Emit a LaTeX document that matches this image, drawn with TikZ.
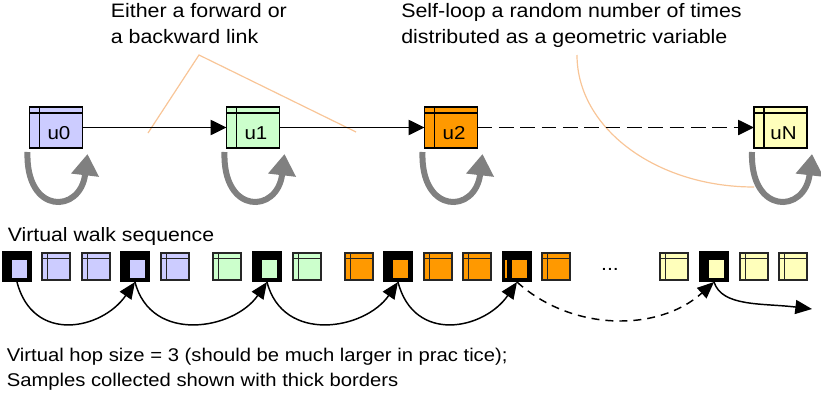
\documentclass[tikz,border=0pt]{standalone}
\usepackage{fontspec}
\setmainfont[FakeStretch=1.1]{Liberation Sans}
\usetikzlibrary{arrows.meta,calc}
\definecolor{lav}{HTML}{CCCCFF}
\definecolor{mint}{HTML}{CCFFCC}
\definecolor{orng}{HTML}{FF9900}
\definecolor{lemon}{HTML}{FFFFBB}
\definecolor{callout}{HTML}{F8C597}
\definecolor{loopgray}{HTML}{808080}
\newcommand\litebox[3]{%
  \node[sbox, fill=#3] (#1) at (#2,266.5) {};
  \draw[thinln] ($(#1.north west)+(0,5)$) -- ($(#1.north east)+(0,5)$);
  \draw[thinln] ($(#1.north west)+(5.5,0)$) -- ($(#1.south west)+(5.5,0)$);
}
\newcommand\darkbox[3]{%
  \node[bbox] (#1) at (#2,266.5) {};
  \fill[#3] ($(#1.north west)+(10,9)$) rectangle ($(#1.south east)+(-5,-4.5)$);
}
\newcommand\topbox[3]{%
  \node[ubox, fill=#3] (#1) at (#2,127.5) {};
  \draw[midln] ($(#1.north west)+(0,6)$) -- ($(#1.north east)+(0,6)$);
  \draw[midln] ($(#1.north west)+(10,0)$) -- ($(#1.south west)+(10,0)$);
}
\begin{document}
\begin{tikzpicture}[x=0.75pt,y=-0.75pt,
  ubox/.style={draw=black, line width=1pt, minimum width=39.75pt, minimum height=30.75pt, inner sep=0pt, outer sep=0pt},
  midln/.style={line width=0.8pt},
  ulab/.style={font=\fontsize{14}{16}\selectfont, inner sep=0pt, anchor=base},
  link/.style={line width=1.1pt, -{Triangle[length=12pt,width=11.5pt]}},
  dlink/.style={link, dash pattern=on 11pt off 5pt},
  selfloop/.style={draw=loopgray, line width=4.5pt, -{Triangle[length=16pt,width=20pt]}},
  callline/.style={draw=callout, line width=0.9pt},
  sbox/.style={draw=black!85, line width=0.9pt, minimum width=21pt, minimum height=20.25pt, inner sep=0pt, outer sep=0pt},
  thinln/.style={draw=black!85, line width=0.7pt},
  bbox/.style={fill=black, minimum width=22.5pt, minimum height=23.25pt, inner sep=0pt, outer sep=0pt},
  hop/.style={line width=1.1pt, -{Triangle[length=12.5pt,width=10.5pt]}},
  dhop/.style={hop, dash pattern=on 6pt off 4.5pt},
  captop/.style={font=\fontsize{14.6}{17}\selectfont, inner sep=0pt, anchor=base west},
  capmid/.style={font=\fontsize{14.5}{17}\selectfont, inner sep=0pt, anchor=base west},
  capbot/.style={font=\fontsize{13.8}{16}\selectfont, inner sep=0pt, anchor=base west}
]
\useasboundingbox (0,0) rectangle (821,393);

% captions
\node[captop] (t1a) at (110.5,17) {Either a forward or};
\node[captop] (t1b) at (110.5,43) {a backward link};
\node[captop] (t2a) at (401,17) {Self-loop a random number of times};
\node[captop] (t2b) at (401,43) {distributed as a geometric variable};
\node[capmid] (t3) at (7.5,241) {Virtual walk sequence};
\node[capbot] (t4a) at (6.5,361) {Virtual hop size = 3 (should be much larger in prac tice);};
\node[capbot] (t4b) at (6.5,386) {Samples collected shown with thick borders};

% callout lines
\coordinate (ca) at (199,55);
\coordinate (cl) at (148,133);
\coordinate (cr) at (356,132);
\draw[callline] (cl) -- (ca) -- (cr);
\coordinate (sa) at (577,55);
\coordinate (sb) at (754,187);
\draw[callline] (sa) .. controls +(0,73) and +(-98,0) .. (sb);

% top chain
\topbox{u0}{56}{lav}
\topbox{u1}{253}{mint}
\topbox{u2}{451}{orng}
\topbox{uN}{780.5}{lemon}
\node[ulab] (u0l) at ($(u0.south)+(3,-9)$) {u0};
\node[ulab] (u1l) at ($(u1.south)+(3,-9)$) {u1};
\node[ulab] (u2l) at ($(u2.south)+(3,-9)$) {u2};
\node[ulab] (uNl) at ($(uN.south)+(3,-9)$) {uN};
\draw[link] (u0.east) -- (u1.west);
\draw[link] (u1.east) -- (u2.west);
\draw[dlink] (u2.east) -- (uN.west);
\foreach \n in {u0,u1,u2,uN}{
  \draw[selfloop] ($(\n.south west)+(-2,4)$) .. controls +(-2,63) and +(-7,60) .. ($(\n.south east)+(5,6)$);
}

% virtual walk sequence
\darkbox{b1}{17}{lav}
\litebox{b2}{56}{lav}
\litebox{b3}{96}{lav}
\darkbox{b4}{135}{lav}
\litebox{b5}{175}{lav}
\litebox{b6}{227}{mint}
\darkbox{b7}{267}{mint}
\litebox{b8}{307}{mint}
\litebox{b9}{359}{orng}
\darkbox{b10}{398}{orng}
\litebox{b11}{438}{orng}
\litebox{b12}{477}{orng}
\darkbox{b13}{517}{orng}
\fill[orng] ($(b13.north west)+(3,9)$) rectangle ($(b13.south west)+(5,-4.5)$);
\litebox{b14}{556}{orng}
\node[capmid, anchor=base] (dots) at (610,270) {...};
\litebox{b15}{674}{lemon}
\darkbox{b16}{714}{lemon}
\litebox{b17}{754}{lemon}
\litebox{b18}{793}{lemon}

\draw[hop] (b1.south) .. controls +(16,62) and +(-33,48) .. (b4.south);
\draw[hop] (b4.south) .. controls +(16,62) and +(-33,48) .. (b7.south);
\draw[hop] (b7.south) .. controls +(16,62) and +(-33,48) .. (b10.south);
\draw[hop] (b10.south) .. controls +(16,62) and +(-33,48) .. (b13.south);
\draw[dhop] (b13.south) .. controls +(55,50) and +(-55,50) .. (b16.south);
\coordinate (hend) at (812,309);
\draw[hop] (b16.south) .. controls +(8,25) and +(-50,-6) .. (hend);
\end{tikzpicture}
\end{document}
